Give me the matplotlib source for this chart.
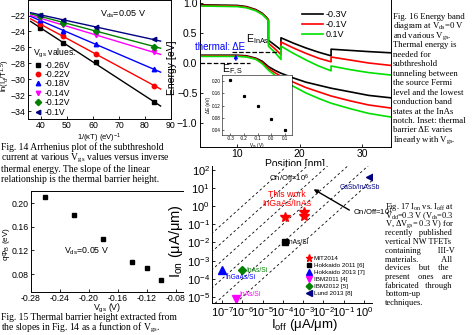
import numpy as np
import matplotlib
matplotlib.use('Agg')
import matplotlib.pyplot as plt
from matplotlib.lines import Line2D

plt.rcParams['font.family'] = ['Liberation Sans', 'DejaVu Sans']
plt.rcParams['mathtext.fontset'] = 'custom'
plt.rcParams['mathtext.rm'] = 'Liberation Sans'
plt.rcParams['mathtext.it'] = 'Liberation Sans:italic'
plt.rcParams['mathtext.default'] = 'regular'
plt.rcParams['axes.linewidth'] = 0.7

W, H = 474, 335

# ---- Fig 14 data (Arrhenius) ----
inv_kT = [39.5, 48.6, 61.2, 83.3]
vgs_names = ['-0.26V', '-0.22V', '-0.18V', '-0.14V', '-0.12V', '-0.1V']
ln_m026 = [-23.6, -25.4, -27.9, -32.9]
ln_m022 = [-23.1, -24.6, -26.8, -30.8]
ln_m018 = [-22.6, -23.9, -25.6, -28.75]
ln_m014 = [-22.3, -23.2, -24.5, -26.6]
ln_m012 = [-22.1, -22.9, -23.9, -25.9]
ln_m010 = [-21.9, -22.5, -23.5, -25.0]

# ---- Fig 15 data (barrier height) ----
vgs15 = [-0.26, -0.22, -0.18, -0.14, -0.12, -0.10]
barrier15 = [0.21, 0.18, 0.14, 0.10, 0.09, 0.07]

# ---- Fig 16 data (band diagram) ----
pos_cb = [4, 10, 11.5, 13, 14, 14.7, 15.0, 15.0, 16, 17, 17, 19, 21, 23, 25, 25, 28, 31, 34.5]
cb_m03 = [0.97, 0.96, 0.94, 0.89, 0.83, 0.76, 0.72, 0.38, 0.30, 0.22, 0.42, 0.33, 0.25, 0.18, 0.12, 0.23, 0.21, 0.19, 0.17]
cb_m01 = [0.96, 0.95, 0.93, 0.88, 0.82, 0.75, 0.71, 0.33, 0.24, 0.14, 0.35, 0.25, 0.16, 0.08, 0.02, 0.10, 0.05, 0.00, -0.04]
cb_p01 = [0.95, 0.94, 0.92, 0.87, 0.81, 0.74, 0.70, 0.28, 0.18, 0.06, 0.28, 0.16, 0.05, -0.05, -0.13, -0.05, -0.11, -0.16, -0.20]
pos_vb = [4, 10, 11.5, 13, 14, 15, 16, 17, 19, 21, 23, 25, 28, 31, 34.5]
vb_m03 = [0.13, 0.13, 0.12, 0.08, 0.03, -0.06, -0.12, -0.17, -0.25, -0.32, -0.37, -0.42, -0.48, -0.54, -0.58]
vb_m01 = [0.12, 0.12, 0.11, 0.07, 0.01, -0.09, -0.16, -0.22, -0.32, -0.41, -0.48, -0.55, -0.63, -0.70, -0.75]
vb_p01 = [0.11, 0.11, 0.10, 0.06, -0.01, -0.12, -0.20, -0.27, -0.39, -0.50, -0.59, -0.67, -0.76, -0.84, -0.90]
band_names = ['-0.3V', '-0.1V', '0.1V']
inset_vgs = [-0.3, -0.2, -0.1, 0.0, 0.1]
inset_dE = [0.203, 0.152, 0.12, 0.076, 0.04]

# ---- Fig 17 data (Ion vs Ioff) ----
ref_names = ['MIT2014', 'Hokkaido 2011 [6]', 'Hokkaido 2013 [7]', 'IBM2011 [4]', 'IBM2012 [5]', 'Lund 2013 [8]']
ioff_mit = [1.3e-4, 1.1e-3, 1.1e-3]
ion_mit = [0.25, 0.3, 0.45]
ioff_hok11, ion_hok11 = [1.3e-4], [1.1e-2]
ioff_hok13, ion_hok13 = [1.0e-7], [3e-4]
ioff_ibm11, ion_ibm11 = [5e-7], [8e-6]
ioff_ibm12, ion_ibm12 = [1.0e-6], [3e-4]
ioff_lund, ion_lund = [2.0], [40.0]
onoff_exp = [1, 2, 3, 4, 5, 6]


def box(x0, y0, x1, y1):
    return [x0 / W, 1 - y1 / H, (x1 - x0) / W, (y1 - y0) / H]


fig = plt.figure(figsize=(W / 100, H / 100), dpi=100)

# ================= Fig 14 =================
ax14 = fig.add_axes(box(28, -0.4, 171, 119))
series14 = [ln_m026, ln_m022, ln_m018, ln_m014, ln_m012, ln_m010]
cols14 = ['black', 'red', 'blue', 'magenta', 'green', 'navy']
mk14 = ['s', 'o', '^', 'v', 'D', '<']
xfit = np.array([36, 86])
handles = []
for ys, c, m, n in zip(series14, cols14, mk14, vgs_names):
    k, b = np.polyfit(inv_kT, ys, 1)
    ax14.plot(xfit, k * xfit + b, color=c, lw=1.0)
    ax14.plot(inv_kT, ys, m, color=c, ms=3.2)
    handles.append(Line2D([], [], ls='', marker=m, color=c, ms=3.2, label=n))
ax14.set_xlim(35, 90)
ax14.set_ylim(-35, -20)
ax14.set_xticks([40, 50, 60, 70, 80, 90])
ax14.set_yticks([-34, -32, -30, -28, -26, -24, -22])
ax14.tick_params(labelsize=6.3, direction='in', length=2.5, width=0.6, pad=1.5)
ax14.set_xlabel('1/(κT) (eV)$^{-1}$', fontsize=5.5, labelpad=1)
ax14.set_ylabel('ln(I$_d$/T$^{1.5}$)', fontsize=5.5)
ax14.yaxis.set_label_coords(-0.11, 0.36)
ax14.text(0.5, 0.86, 'V$_{ds}$=0.05 V', transform=ax14.transAxes, fontsize=6.5)
leg = ax14.legend(handles=handles, title='V$_{gs}$ values:', loc='upper left',
                  bbox_to_anchor=(33 / W, 1 - 47 / H), bbox_transform=fig.transFigure,
                  fontsize=6.2, title_fontsize=6.2, frameon=False, labelspacing=0.05,
                  handletextpad=0.1, handlelength=1.2, borderpad=0, borderaxespad=0)
leg._legend_box.align = 'left'

# ================= Fig 15 =================
ax15 = fig.add_axes(box(31, 191.2, 183, 291.8))
ax15.plot(vgs15, barrier15, 's', color='black', ms=2.6)
ax15.set_xlim(-0.28, -0.07)
ax15.set_ylim(0.05, 0.22)
ax15.set_xticks([-0.28, -0.24, -0.20, -0.16, -0.12, -0.08])
ax15.set_xticklabels(['-0.28', '-0.24', '-0.20', '-0.16', '-0.12', '-0.08'])
ax15.set_yticks([0.08, 0.12, 0.16, 0.20])
ax15.set_yticklabels(['0.08', '0.12', '0.16', '0.20'])
ax15.spines['right'].set_visible(False)
ax15.tick_params(labelsize=6.3, direction='in', length=2.5, width=0.6, pad=1.5)
ax15.set_xlabel('V$_{gs}$ (V)', fontsize=6.3, labelpad=-1)
ax15.set_ylabel('qΦ$_B$ (eV)', fontsize=5.8)
ax15.yaxis.set_label_coords(-0.125, 0.47)
ax15.text(-0.235, 0.115, 'V$_{ds}$=0.05 V', fontsize=6.3)

# ================= Fig 16 =================
ax16 = fig.add_axes(box(199.5, -3, 390.6, 147))
bcols = ['black', 'red', '#00e000']
for cb, vb, c, n in zip([cb_m03, cb_m01, cb_p01], [vb_m03, vb_m01, vb_p01], bcols, band_names):
    ax16.plot(pos_cb, cb, color=c, lw=1.2, label=n)
    ax16.plot(pos_vb, vb, color=c, lw=1.2)
ax16.set_xlim(4, 34.5)
ax16.set_ylim(-1.4, 1.1)
ax16.set_xticks([10, 20, 30])
ax16.set_yticks([-1.0, -0.5, 0.0, 0.5, 1.0])
ax16.tick_params(labelsize=7.5, direction='in', length=2.5, width=0.6, pad=1.5)
ax16.set_xlabel('Position [nm]', fontsize=7.5, labelpad=0)
ax16.set_ylabel('Energy [eV]', fontsize=7.5)
ax16.yaxis.set_label_coords(-0.12, 0.53)
ax16.hlines(0.0, 4, 12, colors='black', linestyles='--', lw=0.9)
ax16.hlines(0.18, 9.2, 16.4, colors='black', linestyles='--', lw=0.9)
ax16.annotate('', xy=(9.8, 0.19), xytext=(9.8, 0.0),
              arrowprops=dict(arrowstyle='-|>', color='blue', lw=1.0, mutation_scale=5))
ax16.text(3.3, 0.22, 'thermal: ΔE', color='blue', fontsize=7, clip_on=False)
ax16.text(11.5, 0.34, 'E$_{InAs}$', fontsize=7.5)
ax16.text(7.6, -0.16, 'E$_{F,S}$', fontsize=7.5)
ax16.legend(loc='upper left', bbox_to_anchor=(302 / W, 1 - 10 / H), bbox_transform=fig.transFigure,
            fontsize=6.5, frameon=False, handlelength=2.3, handletextpad=0.3,
            labelspacing=0.1, borderpad=0, borderaxespad=0)

axin = fig.add_axes(box(222, 75, 292, 135))
axin.plot(inset_vgs, inset_dE, 's', color='black', ms=1.3)
axin.set_xlim(-0.36, 0.15)
axin.set_ylim(0.025, 0.22)
axin.set_xticks([-0.3, -0.2, -0.1, 0.0, 0.1])
axin.set_xticklabels(['-0.3', '-0.2', '-0.1', '0.0', '0.1'])
axin.set_yticks([0.04, 0.08, 0.12, 0.16, 0.20])
axin.set_yticklabels(['0.04', '0.08', '0.12', '0.16', '0.20'])
axin.tick_params(labelsize=3.3, direction='in', length=1.2, width=0.4, pad=1)
for s in axin.spines.values():
    s.set_linewidth(0.4)
axin.set_xlabel('V$_{gs}$ (V)', fontsize=3.3, labelpad=0)
axin.set_ylabel('ΔE (eV)', fontsize=3.3, labelpad=0.5)

# ================= Fig 17 =================
ax17 = fig.add_axes(box(212, 166, 372, 303))
ax17.set_xscale('log')
ax17.set_yscale('log')
ax17.set_xlim(10 ** -7.5, 10 ** 0.4)
ax17.set_ylim(10 ** -5.33, 10 ** 2.2)
xl = np.array([1e-9, 1e2])
for e in onoff_exp:
    ax17.plot(xl, xl * 10 ** e, ls=(0, (3, 3)), color='black', lw=0.6)
ax17.plot(ioff_mit, ion_mit, '*', color='red', ms=7, label=ref_names[0])
ax17.plot(ioff_hok11, ion_hok11, 's', color='black', ms=4.5, label=ref_names[1])
ax17.plot(ioff_hok13, ion_hok13, '^', color='blue', ms=6, label=ref_names[2])
ax17.plot(ioff_ibm11, ion_ibm11, 'v', color='magenta', ms=6, label=ref_names[3])
ax17.plot(ioff_ibm12, ion_ibm12, 'D', color='green', ms=4.5, label=ref_names[4])
ax17.plot(ioff_lund, ion_lund, '<', color='navy', ms=6, label=ref_names[5])
ax17.set_xticks([10.0 ** e for e in range(-7, 1)])
ax17.set_yticks([10.0 ** e for e in range(-5, 3)])
ax17.minorticks_off()
ax17.tick_params(labelsize=8, direction='in', length=2.5, width=0.6, pad=1.5)
ax17.spines['top'].set_visible(False)
ax17.spines['right'].set_visible(False)
ax17.set_xlabel('I$_{off}$ (μA/μm)', fontsize=9.5)
ax17.xaxis.set_label_coords(0.58, -0.105)
ax17.set_ylabel('I$_{on}$ (μA/μm)', fontsize=10.5)
ax17.yaxis.set_label_coords(-0.17, 0.45)
ax17.text(1.5e-4, 1.0, 'This work\nInGaAs/InAs', color='red', fontsize=6.3, ha='center', linespacing=0.95)
ax17.text(1.6e-4, 1.0e-2, 'InAs/Si', fontsize=4.8, va='center')
ax17.text(1.5e-7, 1.2e-4, 'InGaAs/Si', fontsize=4.8, color='blue', va='center')
ax17.text(1.6e-6, 3e-4, 'InAs/Si', fontsize=4.8, color='green', va='center')
ax17.text(7e-7, 1.3e-5, 'InAs/Si', fontsize=4.8, color='magenta', va='center')
ax17.text(0.6, 10.0, 'GaSb/InAsSb', fontsize=4.8, color='navy', ha='center', va='center')
ax17.text(2e-5, 22, 'On/Off=10$^6$', fontsize=5.5)
ax17.text(0.28, 0.3, 'On/Off=10$^1$', fontsize=5.5)
ax17.annotate('', xy=(10 ** -2.6, 10 ** 1.0), xytext=(10 ** -0.6, 10 ** -0.3),
              arrowprops=dict(arrowstyle='-|>', color='black', lw=1.0, mutation_scale=6))
ax17.legend(loc='upper left', bbox_to_anchor=(306 / W, 1 - 256 / H), bbox_transform=fig.transFigure,
            fontsize=4.5, frameon=False, handlelength=1, handletextpad=0.2,
            labelspacing=0.25, borderpad=0, borderaxespad=0, markerscale=0.75)

# ================= captions =================
serif = ['Liberation Serif', 'DejaVu Serif']
cap14 = ['Fig. 14 Arrhenius plot of the subthreshold',
         'current at various V$_{gs}$ values versus inverse',
         'thermal energy. The slope of the linear',
         'relationship is the thermal barrier height.']
for i, s in enumerate(cap14):
    fig.text(1 / W, 1 - (147 + 11 * i) / H, s, family=serif, fontsize=6.9, va='center')

cap15 = ['Fig. 15 Thermal barrier height extracted from',
         'the slopes in Fig. 14 as a function of V$_{gs}$.']
for i, s in enumerate(cap15):
    fig.text(1 / W, 1 - (317 + 10.5 * i) / H, s, family=serif, fontsize=6.9, va='center')

cap16 = ['Fig. 16 Energy band', 'diagram at V$_{ds}$=0 V', 'and various V$_{gs}$.',
         'Thermal energy is', 'needed for', 'subthreshold', 'tunneling between',
         'the source Fermi', 'level and the lowest', 'conduction band',
         'states at the InAs', 'notch. Inset: thermal', 'barrier ΔE varies',
         'linearly with V$_{gs}$.']
for i, s in enumerate(cap16):
    fig.text(393 / W, 1 - (17 + 9.45 * i) / H, s, family=serif, fontsize=6.3, va='center')

cap17 = ['Fig. 17 I$_{on}$ vs. I$_{off}$ at', 'V$_{dd}$=0.3 V (V$_{ds}$=0.3',
         'V, ΔV$_{gs}$= 0.3 V) for', 'recently   published', 'vertical NW TFETs',
         'containing        III-V', 'materials.           All',
         'devices    but    the', 'present    ones    are',
         'fabricated   through', 'bottom-up', 'techniques.']
for i, s in enumerate(cap17):
    fig.text(385 / W, 1 - (207 + 8.75 * i) / H, s, family=serif, fontsize=6.0, va='center')

fig.savefig('out.png', dpi=100)
